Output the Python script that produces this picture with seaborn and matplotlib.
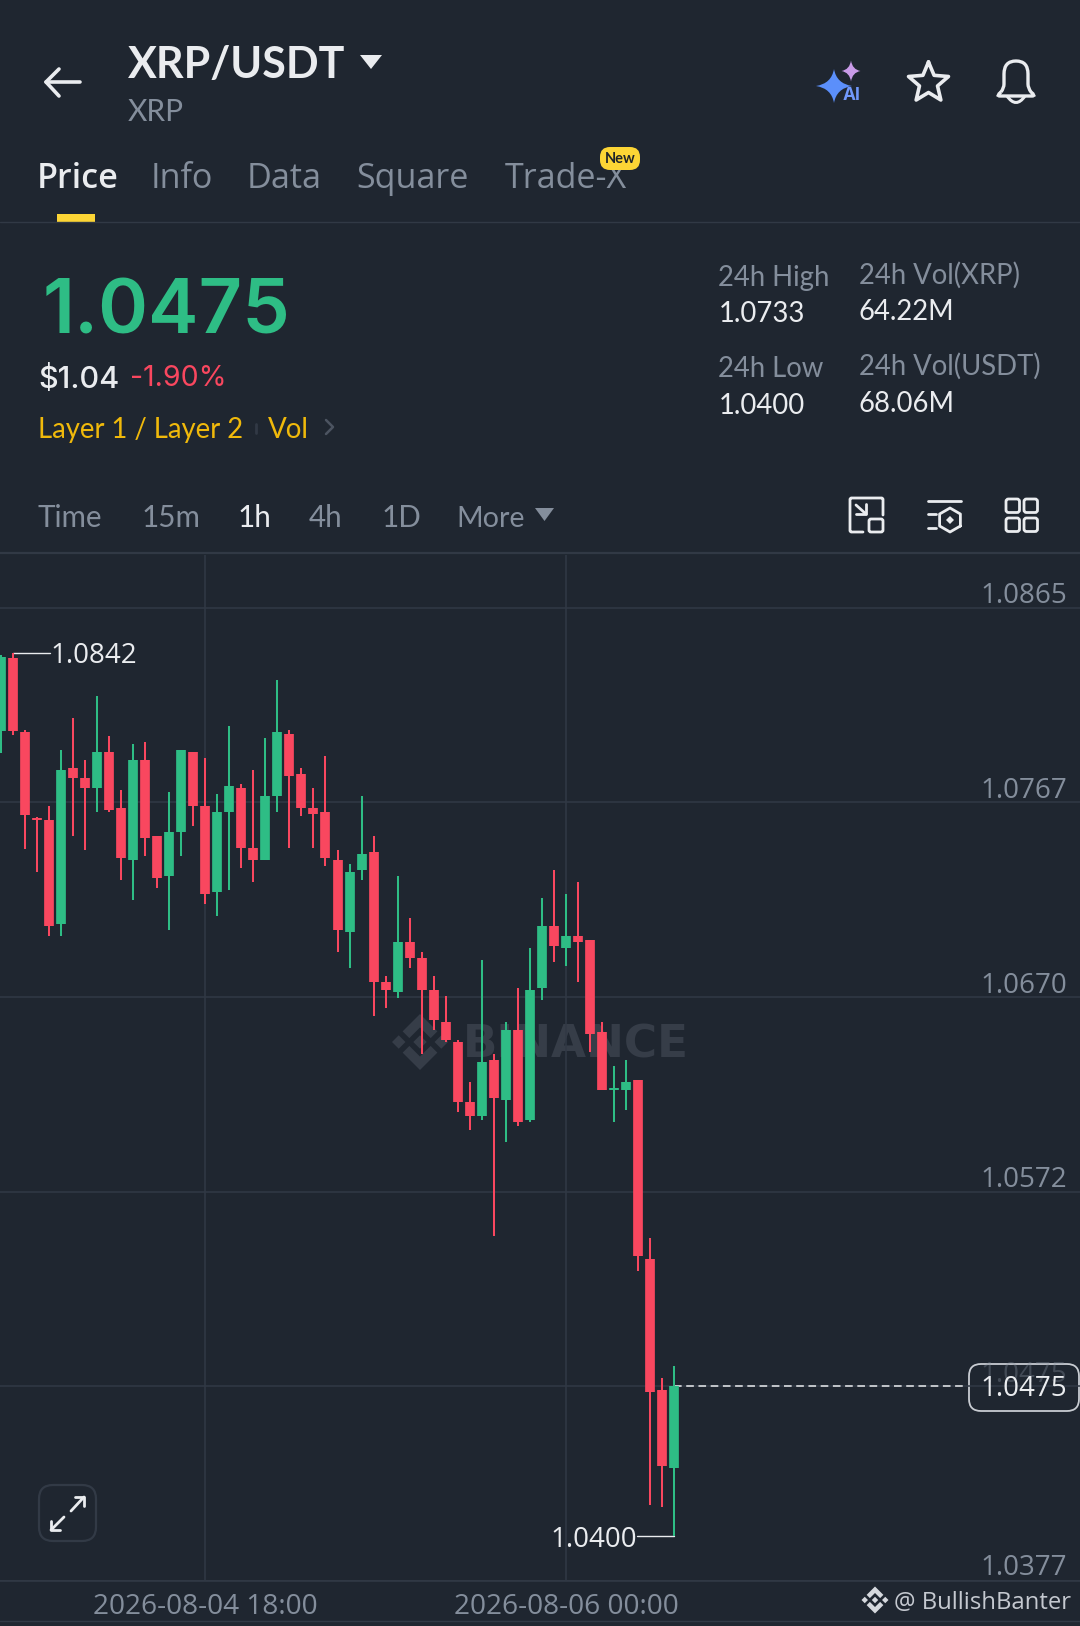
import numpy as np
import pandas as pd
import matplotlib.pyplot as plt
import seaborn as sns
from matplotlib.patches import FancyBboxPatch, Polygon, PathPatch
from matplotlib.path import Path

# hourly candles
opens = [1.08030, 1.08398, 1.08028, 1.07596, 1.07586, 1.07067, 1.07846, 1.07796, 1.07747, 1.07926,
         1.07646, 1.07387, 1.07886, 1.07505, 1.07307, 1.07527, 1.07926, 1.07656, 1.07227, 1.07627,
         1.07746, 1.07445, 1.07387, 1.07707, 1.08016, 1.07816, 1.07646, 1.07626, 1.07385, 1.07027,
         1.07337, 1.07425, 1.06774, 1.06726, 1.06975, 1.06895, 1.06735, 1.06574, 1.06474, 1.06174,
         1.06105, 1.06384, 1.06185, 1.06534, 1.06085, 1.06746, 1.07055, 1.06946, 1.07005, 1.06985,
         1.06524, 1.06235, 1.06235, 1.06284, 1.05389, 1.04729, 1.04339]
closes = [1.08400, 1.08030, 1.07609, 1.07586, 1.07057, 1.07836, 1.07798, 1.07747, 1.07926, 1.07637,
          1.07397, 1.07886, 1.07497, 1.07297, 1.07526, 1.07936, 1.07657, 1.07217, 1.07626, 1.07756,
          1.07447, 1.07387, 1.07706, 1.08028, 1.07808, 1.07647, 1.07617, 1.07397, 1.07036, 1.07325,
          1.07415, 1.06776, 1.06736, 1.06975, 1.06896, 1.06736, 1.06586, 1.06486, 1.06175, 1.06105,
          1.06374, 1.06195, 1.06534, 1.06075, 1.06735, 1.07055, 1.06957, 1.07005, 1.06977, 1.06516,
          1.06235, 1.06244, 1.06274, 1.05402, 1.04719, 1.04351, 1.04750]
highs = [1.08410, 1.08420, 1.08036, 1.07602, 1.07656, 1.07936, 1.08096, 1.07886, 1.08206, 1.08006,
         1.07736, 1.07966, 1.07976, 1.07505, 1.07726, 1.07936, 1.07926, 1.07896, 1.07716, 1.08056,
         1.07766, 1.07836, 1.07996, 1.08287, 1.08036, 1.07846, 1.07746, 1.07906, 1.07435, 1.07365,
         1.07706, 1.07506, 1.06805, 1.07305, 1.07095, 1.06925, 1.06805, 1.06704, 1.06484, 1.06274,
         1.06885, 1.06414, 1.06574, 1.06745, 1.06945, 1.07195, 1.07335, 1.07215, 1.07275, 1.06985,
         1.06574, 1.06354, 1.06384, 1.06284, 1.05491, 1.04791, 1.04851]
lows = [1.07919, 1.08010, 1.07439, 1.07327, 1.07006, 1.07006, 1.07507, 1.07437, 1.07627, 1.07627,
        1.07287, 1.07187, 1.07407, 1.07247, 1.07036, 1.07407, 1.07557, 1.07167, 1.07107, 1.07237,
        1.07347, 1.07277, 1.07387, 1.07627, 1.07447, 1.07607, 1.07447, 1.07357, 1.06926, 1.06846,
        1.07287, 1.06606, 1.06646, 1.06696, 1.06846, 1.06416, 1.06536, 1.06476, 1.06125, 1.06032,
        1.06084, 1.05503, 1.05973, 1.06054, 1.06075, 1.06686, 1.06876, 1.06856, 1.06776, 1.06426,
        1.06235, 1.06074, 1.06134, 1.05329, 1.04158, 1.04147, 1.04000]

price_ticks = [1.0865, 1.07675, 1.0670, 1.05725, 1.0475, 1.03775]
price_labels = ['1.0865', '1.0767', '1.0670', '1.0572', '1.0475', '1.0377']
time_ticks = [17, 47]
time_labels = ['2026-08-04 18:00', '2026-08-06 00:00']
last_price = 1.0475
top_price = 1.0842
low_price = 1.0400

BG = '#1f2630'
LINE = '#313945'
GREY = '#848e9c'
WHITE = '#eaecef'
GREEN = '#2ebd85'
RED = '#f9475f'
YELLOW = '#fcd535'
GOLD = '#f0b90b'

W, H = 1080, 1626
sns.set_theme(style='dark', rc={'figure.facecolor': BG, 'axes.facecolor': BG})
plt.rcParams['font.family'] = ['Open Sans', 'DejaVu Sans']

fig = plt.figure(figsize=(W / 100, H / 100), dpi=100)

# the app screen, in pixels
ui = fig.add_axes([0, 0, 1, 1], zorder=0)
ui.set_xlim(0, W)
ui.set_ylim(H, 0)
ui.axis('off')


def label(x, y, s, size, color=GREY, weight='normal', family='Lato', ha='left', va='baseline', **kw):
    return ui.text(x, y, s, fontsize=size, color=color, fontweight=weight, family=family, ha=ha, va=va, **kw)


def stroke(pts, color=WHITE, lw=2.2, closed=False):
    pts = np.array(pts, dtype=float)
    if closed:
        pts = np.vstack([pts, pts[:1]])
    ui.plot(pts[:, 0], pts[:, 1], color=color, lw=lw, solid_capstyle='round', solid_joinstyle='round')


def rbox(x0, y0, x1, y1, r, fc='none', ec=WHITE, lw=2.2, zorder=2):
    ui.add_patch(FancyBboxPatch((x0 + r, y0 + r), x1 - x0 - 2 * r, y1 - y0 - 2 * r,
                                boxstyle=f'round,pad={r},rounding_size={r}', fc=fc, ec=ec, lw=lw, zorder=zorder))


def sparkle(cx, cy, rx, ry, color):
    k = 0.14
    verts = [(cx, cy - ry), (cx + rx * k, cy - ry * k), (cx + rx, cy),
             (cx + rx * k, cy + ry * k), (cx, cy + ry),
             (cx - rx * k, cy + ry * k), (cx - rx, cy),
             (cx - rx * k, cy - ry * k), (cx, cy - ry)]
    codes = [Path.MOVETO] + [Path.CURVE3] * 8
    ui.add_patch(PathPatch(Path(verts, codes), fc=color, ec='none'))


def binance_logo(cx, cy, r, color):
    top = [(0, 1), (0.62, 0.38), (0.38, 0.14), (0, 0.52), (-0.38, 0.14), (-0.62, 0.38)]
    for pts in (top, [(a, -b) for a, b in top]):
        ui.add_patch(Polygon([(cx + a * r, cy + b * r) for a, b in pts], fc=color, ec='none'))
    for dx in (-0.76, 0, 0.76):
        d = 0.24
        ui.add_patch(Polygon([(cx + (dx + a) * r, cy + b * r) for a, b in
                              [(0, d), (d, 0), (0, -d), (-d, 0)]], fc=color, ec='none'))


# header
stroke([(80, 82), (46, 82)], lw=2.6)
stroke([(59, 69), (46, 82), (59, 96)], lw=2.6)
label(128, 78.5, 'XRP/USDT', 31, WHITE, 'bold')
ui.add_patch(Polygon([(360, 55), (382, 55), (371, 69)], fc=WHITE, ec='none'))
label(128, 121, 'XRP', 21.5)

sparkle(834, 86, 18, 17, '#5b8ffb')
sparkle(851, 71, 9.5, 10.5, '#c99be8')
label(843, 100.5, 'AI', 12.5, '#7098fb', 'bold', family='Inter')

ang = np.deg2rad(-90 + np.arange(10) * 36)
rad = np.where(np.arange(10) % 2 == 0, 21, 9.5)
stroke(np.c_[928.5 + rad * np.cos(ang), 83 + rad * np.sin(ang)], lw=2.6, closed=True)

bell = Path([(1001, 92), (1004, 88), (1004, 84), (1004, 74), (1004, 61), (1016, 61),
             (1028, 61), (1028, 74), (1028, 84), (1028, 88), (1031, 92), (1036, 96),
             (1032, 96), (1000, 96), (996, 96), (1001, 92)],
            [Path.MOVETO, Path.CURVE3, Path.CURVE3, Path.LINETO, Path.CURVE3, Path.CURVE3,
             Path.CURVE3, Path.CURVE3, Path.LINETO, Path.CURVE3, Path.CURVE3, Path.CURVE3,
             Path.CURVE3, Path.LINETO, Path.CURVE3, Path.CURVE3])
ui.add_patch(PathPatch(bell, fc='none', ec=WHITE, lw=2.4))
ui.add_patch(PathPatch(Path([(1007, 96), (1016, 109), (1025, 96)], [Path.MOVETO, Path.CURVE3, Path.CURVE3]),
                       fc='none', ec=WHITE, lw=2.2))

# tabs
for x, s, c in zip([37, 151, 247, 356, 505], ['Price', 'Info', 'Data', 'Square', 'Trade-X'],
                   [WHITE, GREY, GREY, GREY, GREY]):
    label(x, 188.5, s, 24.6, c, 'semibold' if s == 'Price' else 'normal', family='Open Sans')
rbox(600, 147, 640, 170, 10, fc=YELLOW, ec='none', lw=0, zorder=4)
label(620, 159, 'New', 10.5, '#1e2329', 'bold', ha='center', va='center', zorder=5)
ui.add_patch(plt.Rectangle((57, 214), 38, 8, fc=YELLOW, ec='none'))
ui.plot([0, W], [222.5, 222.5], color=LINE, lw=1)

# ticker block
label(43, 333, '1.0475', 54.5, GREEN, 'semibold', family='Inter')
label(38, 388, '$1.04', 22, WHITE, 'medium', family='Inter')
label(129.5, 386, '-1.90%', 20.5, RED, family='Inter')
label(38, 438, 'Layer 1 / Layer 2', 19.8, GOLD)
ui.plot([256, 256], [424, 433], color=LINE, lw=2)
label(268, 438, 'Vol', 20, GOLD)
stroke([(326, 420), (333, 427), (326, 434)], color='#4c5461', lw=1.8)

for x, y, s, c in [(718, 286, '24h High', GREY), (719, 322, '1.0733', WHITE),
                   (718, 377, '24h Low', GREY), (719, 414, '1.0400', WHITE),
                   (859, 284, '24h Vol(XRP)', GREY), (859, 320, '64.22M', WHITE),
                   (859, 375, '24h Vol(USDT)', GREY), (859, 412, '68.06M', WHITE)]:
    label(x, y, s, 19.8, c)

# interval row
for x, s, c in zip([38, 142, 238, 309, 382, 456], ['Time', '15m', '1h', '4h', '1D', 'More'],
                   [GREY, GREY, WHITE, GREY, GREY, GREY]):
    label(x, 527, s, 21.3 if s != 'More' else 20.6, c)
ui.add_patch(Polygon([(535, 508), (554, 508), (544.5, 521)], fc=GREY, ec='none'))

stroke([(863, 532), (851, 532), (850, 531), (850, 499), (851, 498), (882, 498), (883, 499), (883, 515)], lw=2)
rbox(869, 519, 883, 532, 2, lw=2)
stroke([(856, 505), (866, 514)], lw=2)
stroke([(866, 504), (866, 514), (856, 514)], lw=2)
stroke([(928, 501), (961, 501)], lw=2)
stroke([(928, 514), (936, 514)], lw=2)
stroke([(928, 528), (936, 528)], lw=2)
ang = np.deg2rad(30 + np.arange(6) * 60)
stroke(np.c_[950 + 12 * np.cos(ang), 520 + 12 * np.sin(ang)], closed=True, lw=2)
ui.add_patch(Polygon([(950, 516), (954, 520), (950, 524), (946, 520)], fc=WHITE, ec='none'))
for bx, by in [(1006, 499), (1024, 499), (1006, 518), (1024, 518)]:
    rbox(bx, by, bx + 13.5, by + 13.5, 2.5, lw=2)
ui.plot([0, W], [553.5, 553.5], color=LINE, lw=1.6)
ui.plot([0, W], [1581, 1581], color=LINE, lw=1.2)
ui.plot([0, W], [1621, 1621], color=LINE, lw=1)

# watermark sits behind the candles
binance_logo(420, 1042, 28, '#363d48')
label(463, 1057, 'BINANCE', 32.6, '#363d48', 'bold', family='DejaVu Sans')

# footer and expand button
binance_logo(875, 1600, 13.5, '#d5d8dd')
label(894, 1609, '@ BullishBanter', 17.2, '#c5c9d0', family='Open Sans')
rbox(39, 1485, 96, 1541, 14, ec='#323a46', lw=1.6)
stroke([(71, 1511), (84, 1497)], lw=2)
stroke([(75, 1497), (84, 1497), (84, 1506)], lw=2)
stroke([(64, 1517), (51, 1530)], lw=2)
stroke([(51, 1521), (51, 1530), (60, 1530)], lw=2)

# chart
candles = pd.DataFrame({'idx': np.arange(len(opens)), 'open': opens, 'close': closes,
                        'high': highs, 'low': lows})
candles['dir'] = np.where(candles['close'] >= candles['open'], 'up', 'down')
wicks = candles.melt(id_vars=['idx', 'dir'], value_vars=['high', 'low'], value_name='price')
bodies = candles.melt(id_vars=['idx', 'dir'], value_vars=['open', 'close'], value_name='price')
palette = {'up': GREEN, 'down': RED}

ax = fig.add_axes([0, 1 - 1581 / H, 1, (1581 - 555) / H], zorder=1)
ax.patch.set_alpha(0)
sns.lineplot(data=wicks, x='idx', y='price', hue='dir', units='idx', estimator=None, palette=palette,
             linewidth=1.45, legend=False, ax=ax, solid_capstyle='butt', zorder=3)
sns.lineplot(data=bodies, x='idx', y='price', hue='dir', units='idx', estimator=None, palette=palette,
             linewidth=7.0, legend=False, ax=ax, solid_capstyle='butt', zorder=4)

ax.set_xlim(-0.058, 89.72)
ax.set_ylim(1.03775, 1.08913)
ax.set_xlabel('')
ax.set_ylabel('')
ax.set_xticks(time_ticks, time_labels, fontsize=20.2, color=GREY)
ax.set_yticks(price_ticks, [])
ax.tick_params(axis='both', length=0)
ax.tick_params(axis='x', pad=8.5)
ax.grid(True, color=LINE, lw=1.1)
ax.set_axisbelow(True)
for s in ax.spines.values():
    s.set_visible(False)

ytrans = ax.get_yaxis_transform()
for p, s in zip(price_ticks, price_labels):
    off = 9.5 if p == price_ticks[-1] else 8
    ax.annotate(s, (0.988, p), xycoords=ytrans, xytext=(0, off), textcoords='offset points',
                ha='right', va='center', fontsize=20, color=GREY, alpha=0.35 if p == last_price else 1)

# last price line and tag
ax.plot([56, 80.2], [last_price, last_price], color=WHITE, lw=1.1, dashes=(5, 3), zorder=2)
rbox(969, 1364, 1079, 1411, 12, fc='none', ec='#c8ccd2', lw=1.3)
ax.annotate(price_labels[4], (0.988, last_price), xycoords=ytrans, xytext=(0, -2), textcoords='offset points',
            ha='right', va='center', fontsize=20, color=WHITE)

# high / low callouts
ax.plot([1, 4.1], [top_price, top_price], color=WHITE, lw=1, zorder=2)
ax.annotate('1.0842', (4.17, top_price), xytext=(0, -1.5), textcoords='offset points',
            ha='left', va='center', fontsize=20, color=WHITE)
ax.plot([52.9, 56], [low_price, low_price], color=WHITE, lw=1, zorder=2)
ax.annotate('1.0400', (52.93, low_price), xytext=(0, -2.8), textcoords='offset points',
            ha='right', va='center', fontsize=20, color=WHITE)

fig.savefig('out.png', dpi=100, facecolor=BG)
